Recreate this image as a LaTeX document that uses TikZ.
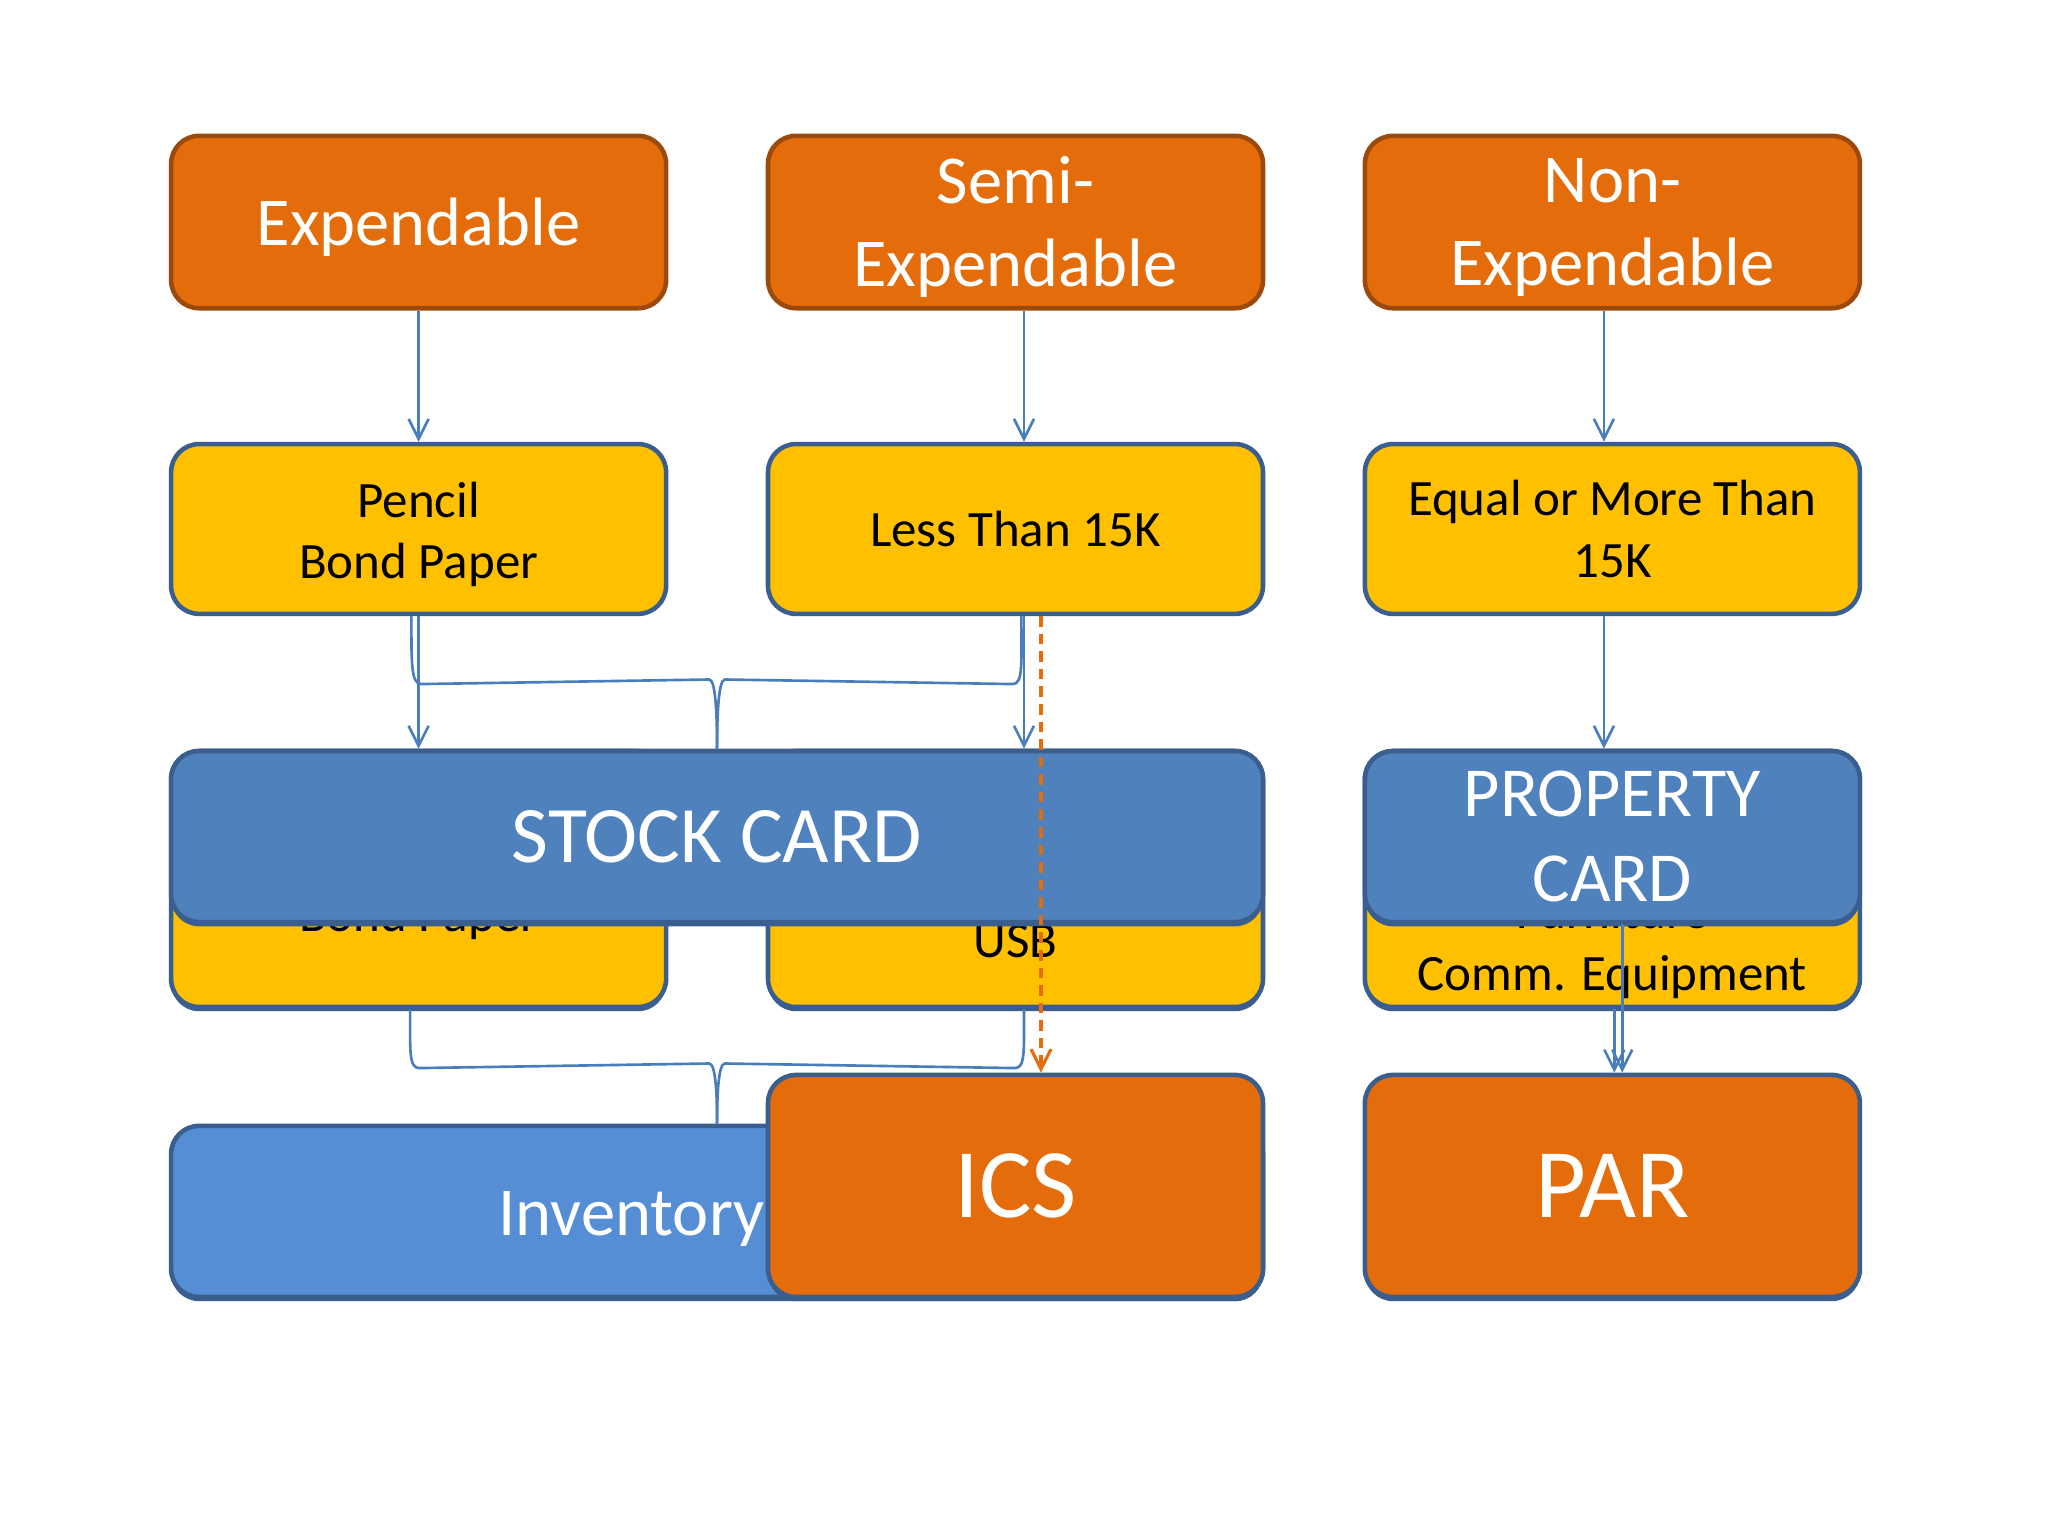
\documentclass[tikz,border=0pt]{standalone}
\usepackage{fontspec}
\setmainfont{Carlito}
\usetikzlibrary{calc,arrows.meta,shadows}
\definecolor{orf}{HTML}{E46C0A}
\definecolor{orbd}{HTML}{9C4A0C}
\definecolor{yel}{HTML}{FFC000}
\definecolor{bbd}{HTML}{3A5F8F}
\definecolor{bfill}{HTML}{4F81BD}
\definecolor{ifill}{HTML}{558ED5}
\definecolor{lnc}{HTML}{4A7EBB}
\begin{document}
\begin{tikzpicture}[x=0.0130612cm,y=-0.0130612cm,
  box/.style={rounded corners=0.28cm, line width=1.3pt, inner sep=0pt, align=center},
  shad/.style={drop shadow={shadow xshift=0pt,shadow yshift=-1.2pt,fill=bbd,opacity=1}},
  toptxt/.style={inner sep=0pt, align=center, text=white, yshift=-1.5pt, font=\fontsize{19.5}{23.6}\selectfont},
  midtxt/.style={inner sep=0pt, align=center, font=\fontsize{14.5}{17.4}\selectfont},
  topbox/.style={box, fill=orf, draw=orbd, minimum width=4.95cm, minimum height=1.724cm},
  midbox/.style={box, fill=yel, draw=bbd, minimum width=4.95cm, minimum height=1.698cm},
  lowbox/.style={box, shad, fill=yel, draw=bbd, minimum width=4.95cm, minimum height=2.56cm},
  ytext/.style={inner sep=0pt, anchor=base, font=\fontsize{14.5}{17.4}\selectfont},
  cardbox/.style={box, shad, fill=bfill, draw=bbd, minimum height=1.711cm, text=white},
  invbox/.style={box, shad, fill=ifill, draw=bbd, minimum width=10.919cm, minimum height=1.711cm},
  botbox/.style={box, shad, fill=orf, draw=bbd, minimum width=4.95cm, minimum height=2.22cm, text=white, font=\fontsize{28}{33}\selectfont},
  conn/.style={draw=lnc, line width=0.75pt},
  arr/.style={conn, -{Straight Barb[length=0.2cm,width=0.2cm]}},
  darr/.style={draw=orf, line width=0.9pt, dash pattern=on 3pt off 2pt, -{Straight Barb[length=0.2cm,width=0.2cm]}}
]
\fill[white] (0,0) rectangle (1568,1176);
\useasboundingbox (0,0) rectangle (1568,1176);

% row 1
\node[topbox, label={[toptxt]center:Expendable}] (exp) at (320.5,170) {};
\node[topbox, label={[toptxt]center:Semi-\\Expendable}] (semi) at (777.5,170) {};
\node[topbox, label={[toptxt]center:Non-\\Expendable}] (non) at (1234.5,170) {};

% row 2
\node[midbox, label={[midtxt, yshift=-1.5pt]center:Pencil\\Bond Paper}] (pen) at (320.5,405) {};
\node[midbox, label={[midtxt]center:Less Than 15K}] (less) at (777.5,405) {};
\node[midbox, label={[midtxt]center:Equal or More Than\\15K}] (eq) at (1234.5,405) {};

% row 3 (yellow, partly hidden)
\node[lowbox] (yel1) at (320.5,673) {};
\node[lowbox] (yel2) at (777.5,673) {};
\node[lowbox] (yel3) at (1234.5,673) {};
\node[ytext] (t1) at (320.5,713) {Bond Paper};
\node[ytext] (t2) at (777.5,733) {USB};
\node[ytext] (t3) at (1234.5,711) {Furniture};
\node[ytext] (t4) at (1234.5,758) {Comm. Equipment};

% cards
\node[cardbox, minimum width=10.919cm, font=\fontsize{22.8}{27.4}\selectfont] (stock) at (549,640.5) {STOCK CARD};
\node[cardbox, minimum width=4.95cm, font=\fontsize{20}{24}\selectfont] (prop) at (1234.5,640.5) {PROPERTY\\CARD};

% row 4
\node[invbox] (inv) at (549,927.5) {};
\node[inner sep=0pt, anchor=base, text=white, font=\fontsize{19.5}{23.6}\selectfont] (invt) at (483.5,946) {Inventory};
\node[botbox] (ics) at (777.5,908) {ICS};
\node[botbox] (par) at (1234.5,908) {PAR};

% connectors row1 -> row2
\draw[arr] (exp.south) -- (pen.north);
\draw[arr] ($(semi.south)+(6.5,0)$) -- ($(less.north)+(6.5,0)$);
\draw[arr] ($(non.south)+(-6.5,0)$) -- ($(eq.north)+(-6.5,0)$);

% row2 -> cards
\draw[arr] (pen.south) -- (stock.north -| pen.south);
\draw[arr] ($(less.south)+(6.5,0)$) -- ($(stock.north -| less.south)+(6.5,0)$);
\draw[arr] ($(eq.south)+(-6.5,0)$) -- ($(prop.north)+(-6.5,0)$);

% upper bracket
\draw[conn] ($(pen.south)+(-5.5,0)$) .. controls +(0,35) and +(-8,0) .. ($(pen.south)+(2,52)$)
  -- ($(stock.north)+(-6,-53)$) .. controls +(5,0) and +(0,-25) .. (stock.north);
\draw[conn] ($(less.south)+(4.5,0)$) .. controls +(0,35) and +(8,0) .. ($(less.south)+(-2,52)$)
  -- ($(stock.north)+(6,-53)$) .. controls +(-5,0) and +(0,-25) .. (stock.north);

% lower bracket
\draw[conn] ($(yel1.south)+(-6.5,0)$) .. controls +(0,32) and +(-8,0) .. ($(yel1.south)+(0.5,45)$)
  -- ($(inv.north)+(-6,-46)$) .. controls +(5,0) and +(0,-22) .. (inv.north);
\draw[conn] ($(yel2.south)+(6.5,0)$) .. controls +(0,32) and +(8,0) .. ($(yel2.south)+(-0.5,45)$)
  -- ($(inv.north)+(6,-46)$) .. controls +(-5,0) and +(0,-22) .. (inv.north);

% dashed
\draw[darr] ($(less.south)+(19.5,0)$) -- ($(ics.north)+(19.5,0)$);

% to PAR
\draw[arr] ($(prop.south)+(7.5,0)$) -- ($(par.north)+(7.5,0)$);
\draw[arr] ($(yel3.south)+(1.5,0)$) -- ($(par.north)+(1.5,0)$);
\end{tikzpicture}
\end{document}
